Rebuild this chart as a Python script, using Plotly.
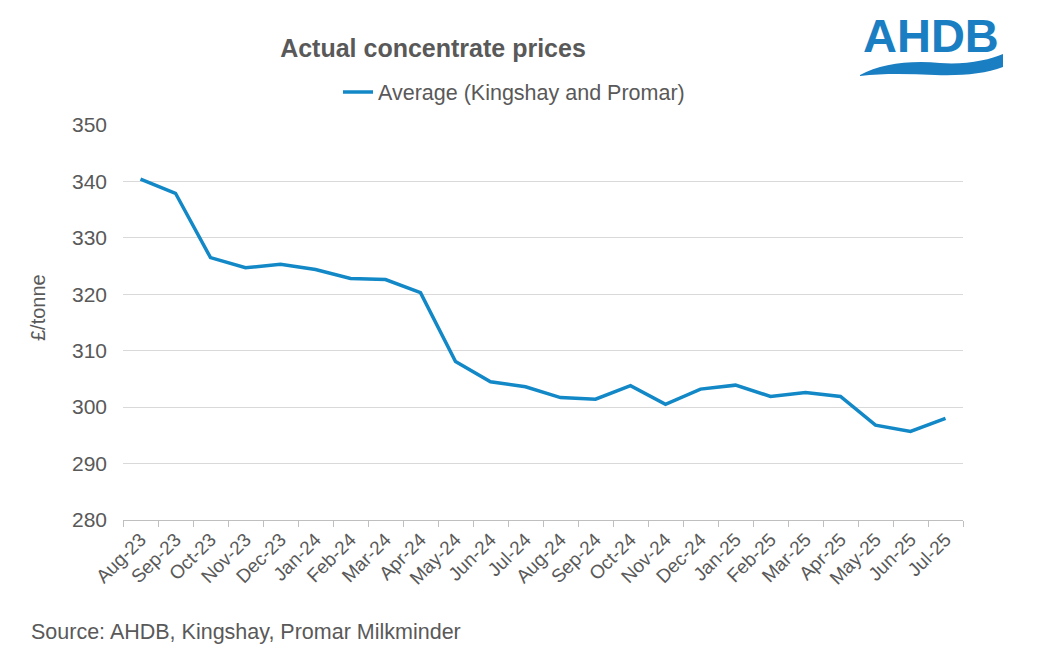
import plotly.graph_objects as go

months = ["Aug-23", "Sep-23", "Oct-23", "Nov-23", "Dec-23", "Jan-24", "Feb-24", "Mar-24",
          "Apr-24", "May-24", "Jun-24", "Jul-24", "Aug-24", "Sep-24", "Oct-24", "Nov-24",
          "Dec-24", "Jan-25", "Feb-25", "Mar-25", "Apr-25", "May-25", "Jun-25", "Jul-25"]
average_prices = [340.4, 337.9, 326.5, 324.7, 325.3, 324.4, 322.8, 322.6,
                  320.3, 308.1, 304.5, 303.6, 301.7, 301.4, 303.8, 300.5,
                  303.2, 303.9, 301.9, 302.6, 301.9, 296.8, 295.7, 298.0]
y_ticks = [280, 290, 300, 310, 320, 330, 340, 350]

FONT = "Arial, 'Liberation Sans', sans-serif"
GREY = "#595959"
BLUE = "#1288C7"
W, H = 1048, 662
L, R, T, B = 123, 85, 125, 142

def px_x(px):
    return (px - L) / (W - L - R)

def px_y(py):
    return (H - B - py) / (H - T - B)

fig = go.Figure()
fig.add_trace(go.Scatter(
    x=months, y=average_prices, mode="lines",
    name="Average (Kingshay and Promar)",
    line=dict(color=BLUE, width=3.5),
))

fig.update_layout(
    width=W, height=H,
    margin=dict(l=L, r=R, t=T, b=B),
    paper_bgcolor="white", plot_bgcolor="white",
    font=dict(family=FONT, color=GREY),
    title=dict(text="<b>Actual concentrate prices</b>", x=px_x(433), xanchor="center",
               y=1 - 48 / H, yanchor="middle", xref="paper",
               font=dict(size=25, color=GREY, family=FONT)),
    showlegend=True,
    legend=dict(orientation="h", x=px_x(514), xanchor="center", y=px_y(92), yanchor="middle",
                font=dict(size=21.5, color=GREY, family=FONT), bgcolor="rgba(0,0,0,0)",
                itemwidth=30),
    xaxis=dict(type="category", tickangle=-45, tickfont=dict(size=19, color=GREY),
               showgrid=False, showline=True, linecolor="#BFBFBF", linewidth=1,
               ticks="outside", tickson="boundaries", ticklen=6, tickcolor="#BFBFBF",
               range=[-0.5, len(months) - 0.5], fixedrange=True),
    yaxis=dict(range=[280, 350], tickvals=y_ticks, ticktext=[str(v) for v in y_ticks],
               tickfont=dict(size=21, color=GREY), showgrid=True, gridcolor="#D9D9D9",
               gridwidth=1, zeroline=False, showline=False, ticks="",
               ticklabelstandoff=15, fixedrange=True),
)

fig.add_annotation(text="£/tonne", textangle=-90, xref="paper", yref="paper",
                   x=px_x(38), y=px_y(308), xanchor="center", yanchor="middle",
                   showarrow=False, font=dict(size=20, color=GREY, family=FONT))
fig.add_annotation(text="Source: AHDB, Kingshay, Promar Milkminder", xref="paper", yref="paper",
                   x=px_x(29), y=px_y(632), xanchor="left", yanchor="middle",
                   showarrow=False, font=dict(size=21.5, color=GREY, family=FONT))

# AHDB logo
LOGO = "#1A7EC2"
fig.add_annotation(text="<b>AHDB</b>", xref="paper", yref="paper",
                   x=px_x(931), y=px_y(36), xanchor="center", yanchor="middle",
                   showarrow=False, font=dict(size=47, color=LOGO, family=FONT))

def pt(x, y):
    return f"{px_x(x):.4f},{px_y(y):.4f}"

path = ("M " + pt(860, 75) + " C " + pt(880, 64) + " " + pt(910, 60) + " " + pt(940, 63)
        + " C " + pt(965, 65) + " " + pt(990, 60) + " " + pt(1003, 54)
        + " L " + pt(1003, 67)
        + " C " + pt(985, 74) + " " + pt(960, 76) + " " + pt(935, 75)
        + " C " + pt(910, 74) + " " + pt(885, 73) + " " + pt(860, 76) + " Z")
fig.add_shape(type="path", path=path, xref="paper", yref="paper",
              fillcolor=LOGO, line=dict(width=0), layer="above")

fig.write_html("out.html")
